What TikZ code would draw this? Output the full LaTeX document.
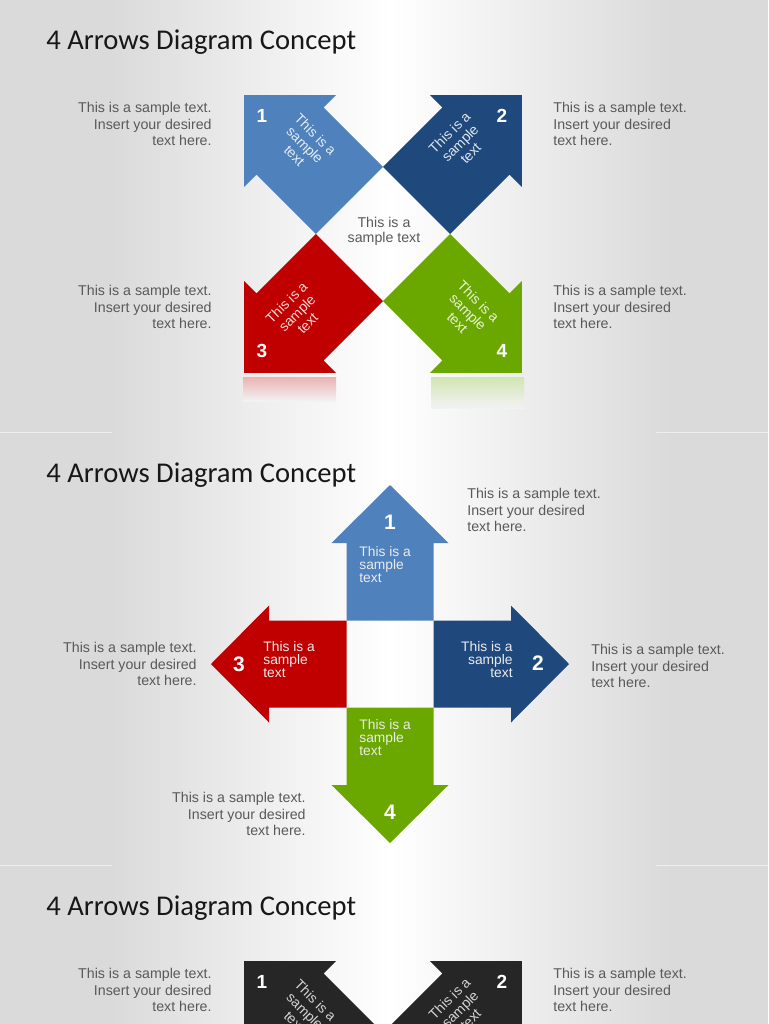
\documentclass[tikz,border=0pt]{standalone}
\usepackage{fontspec}
\setmainfont{Liberation Sans}
\newfontfamily\titlefont{Carlito}
\usetikzlibrary{positioning}
\definecolor{arwBlue}{RGB}{79,129,189}
\definecolor{arwNavy}{RGB}{31,73,125}
\definecolor{arwRed}{RGB}{192,0,0}
\definecolor{arwGreen}{RGB}{106,168,0}
\definecolor{arwDark}{RGB}{38,38,38}
\definecolor{txtGray}{RGB}{89,89,89}
\definecolor{bgGray}{RGB}{218,218,218}
\definecolor{titleInk}{RGB}{23,23,23}

\begin{document}
\begin{tikzpicture}[x=.5pt,y=-.5pt]
\tikzset{
title/.style={font=\titlefont\fontsize{14.3}{16}\selectfont,text=titleInk,inner sep=0pt,anchor=base west},
side/.style={font=\fontsize{7.1}{8.3}\selectfont,text=txtGray,inner sep=0pt},
inner/.style={font=\fontsize{7}{7.4}\selectfont,align=center,inner sep=0pt},
flat/.style={font=\fontsize{6.9}{6.6}\selectfont,text=white!92!black,inner sep=0pt},
num/.style={font=\bfseries\fontsize{9.5}{10}\selectfont,text=white,inner sep=0pt},
bignum/.style={font=\bfseries\fontsize{10.5}{11}\selectfont,text=white,inner sep=0pt}
}
\useasboundingbox (0,0) rectangle (768,1024);
\clip (0,0) rectangle (768,1024);
\fill[bgGray] (0,0) rectangle (768,1024);
\foreach \y in {0,433,866}
  \shade[left color=bgGray,right color=bgGray,middle color=white] (110,\y) rectangle (670,\y+433);
\foreach \y in {432.5,865.5} {
  \draw[white!55!bgGray,line width=.5pt] (0,\y) -- (112,\y);
  \draw[white!55!bgGray,line width=.5pt] (656,\y) -- (768,\y);
}
\foreach \y/\k in {49/1,482/2,915/3}
  \node[title] (head\k) at (46,\y) {4 Arrows Diagram Concept};
\shade[top color=arwRed!30!white,bottom color=black!5] (243,377) rectangle (336,401);
\shade[top color=arwGreen!30!white,bottom color=black!5] (431,377) rectangle (524,408);
\foreach \c/\ang in {arwBlue/135,arwNavy/45,arwRed/225,arwGreen/315}
  \fill[\c,shift={(383,234)},rotate=\ang] (47.5,-47.5) -- (131.5,-47.5) -- (131.5,-65) -- (196.5,0)
    -- (131.5,65) -- (131.5,47.5) -- (47.5,47.5) -- cycle;
\foreach \c/\ang in {arwBlue/90,arwNavy/0,arwRed/180,arwGreen/270}
  \fill[\c,shift={(390,664)},rotate=\ang] (43.5,-43.5) -- (121,-43.5) -- (121,-58.5) -- (179,0)
    -- (121,58.5) -- (121,43.5) -- (43.5,43.5) -- cycle;
\foreach \ang in {135,45}
  \fill[arwDark,shift={(383,1100)},rotate=\ang] (47.5,-47.5) -- (131.5,-47.5) -- (131.5,-65) -- (196.5,0)
    -- (131.5,65) -- (131.5,47.5) -- (47.5,47.5) -- cycle;
\foreach \n/\x/\y in {1/262/116,2/502/116,3/262/351,4/502/351}
  \node[num] (numa\n) at (\x,\y) {\n};
\foreach \n/\c/\x/\y/\r in {1/arwBlue/305/145/-45,2/arwNavy/460/143/45,3/arwRed/297/313/45,4/arwGreen/468/312/-45}
  \node[inner,text=white!85!\c,rotate=\r] (rota\n) at (\x,\y) {This is a\\sample\\text};
\node[side,align=center,font=\fontsize{7.1}{7.6}\selectfont] (mid) at (384,231) {This is a\\sample text};
\node[side,align=right,anchor=north east] (sidea1) at (212,102) {This is a sample text.\\Insert your desired\\text here.};
\node[side,align=left,anchor=north west] (sidea2) at (553,102) {This is a sample text.\\Insert your desired\\text here.};
\node[side,align=right,anchor=north east] (sidea3) at (212,285) {This is a sample text.\\Insert your desired\\text here.};
\node[side,align=left,anchor=north west] (sidea4) at (553,285) {This is a sample text.\\Insert your desired\\text here.};
\foreach \n/\x/\y in {1/390/522,2/538/663,3/239/664,4/390/812}
  \node[bignum] (numb\n) at (\x,\y) {\n};
\node[flat,align=left,anchor=north west] (flatb1) at (359,546) {This is a\\sample\\text};
\node[flat,align=right,anchor=north east] (flatb2) at (513,641) {This is a\\sample\\text};
\node[flat,align=left,anchor=north west] (flatb3) at (263,641) {This is a\\sample\\text};
\node[flat,align=left,anchor=north west] (flatb4) at (359,719) {This is a\\sample\\text};
\node[side,align=left,anchor=north west] (sideb1) at (467,488) {This is a sample text.\\Insert your desired\\text here.};
\node[side,align=left,anchor=north west] (sideb2) at (591,644) {This is a sample text.\\Insert your desired\\text here.};
\node[side,align=right,anchor=north east] (sideb3) at (197,642) {This is a sample text.\\Insert your desired\\text here.};
\node[side,align=right,anchor=north east] (sideb4) at (306,792) {This is a sample text.\\Insert your desired\\text here.};
\foreach \n/\x in {1/262,2/502}
  \node[num] (numc\n) at (\x,982) {\n};
\node[inner,text=white!80!arwDark,rotate=-45] (rotc1) at (305,1011) {This is a\\sample\\text};
\node[inner,text=white!80!arwDark,rotate=45] (rotc2) at (460,1009) {This is a\\sample\\text};
\node[side,align=right,anchor=north east] (sidec1) at (212,968) {This is a sample text.\\Insert your desired\\text here.};
\node[side,align=left,anchor=north west] (sidec2) at (553,968) {This is a sample text.\\Insert your desired\\text here.};
\end{tikzpicture}
\end{document}
